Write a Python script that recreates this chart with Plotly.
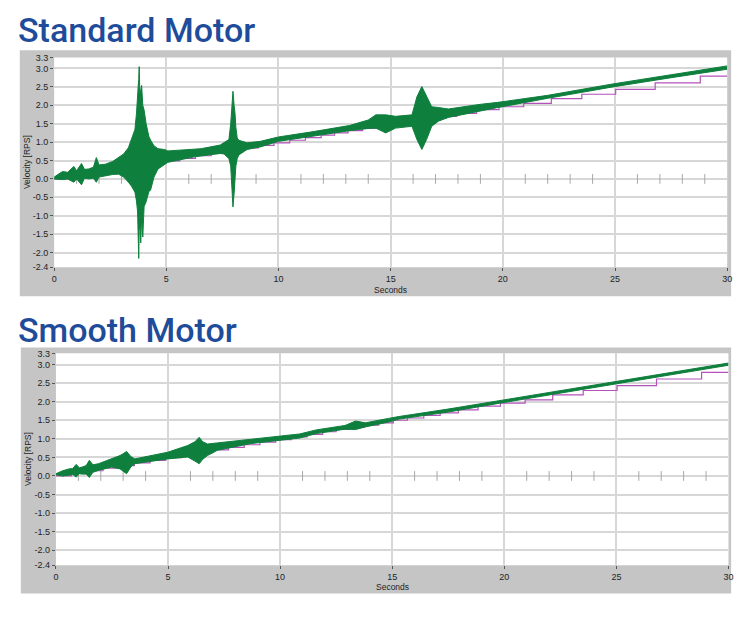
import plotly.graph_objects as go

W, H = 750, 628

# ---------------- data ----------------
# Standard Motor: measured velocity band (upper / lower envelope)
std_t  = [0.0, 0.2, 0.37, 0.6, 0.88, 1.0, 1.22, 1.35, 1.54, 1.75, 1.88, 2.0, 2.28, 2.6, 2.87,
          3.1, 3.31, 3.45, 3.6, 3.67, 3.72, 3.75, 3.77, 3.79, 3.82, 3.86, 3.9, 3.95, 4.01,
          4.1, 4.22, 4.3, 4.45, 4.63, 4.92, 5.07, 6.25, 6.54, 7.4, 7.57, 7.79, 7.87, 7.92,
          7.97, 8.02, 8.06, 8.1, 8.16, 8.23, 8.6, 9.19, 10.0, 11.5, 13.16, 14.0, 14.34, 14.78,
          15.22, 15.95, 16.17, 16.39, 16.6, 16.83, 17.13, 17.57, 19.04, 19.78, 22.0, 24.9,
          27.5, 30.0]
std_hi = [0.05, 0.12, 0.20, 0.18, 0.34, 0.22, 0.42, 0.26, 0.27, 0.32, 0.58, 0.38, 0.40, 0.47, 0.58,
          0.68, 0.85, 1.07, 1.34, 1.78, 2.50, 2.55, 2.70, 3.05, 2.30, 2.45, 2.54, 2.00, 1.87,
          1.50, 1.16, 1.05, 0.90, 0.82, 0.80, 0.76, 0.80, 0.82, 0.92, 0.98, 1.07, 1.50, 2.00,
          2.38, 2.00, 1.80, 1.40, 1.11, 1.05, 0.98, 1.02, 1.14, 1.28, 1.45, 1.60, 1.74, 1.74,
          1.70, 1.74, 2.23, 2.51, 2.23, 1.96, 1.94, 1.90, 2.03, 2.08, 2.27, 2.58,
          2.83, 3.07]
std_lo = [0.00, -0.01, -0.02, 0.00, -0.09, 0.00, -0.16, 0.02, 0.00, 0.02, -0.09, 0.05, 0.09, 0.12, 0.13,
          0.05, -0.09, -0.20, -0.36, -0.60, -0.90, -1.75, -2.16, -1.40, -1.20, -1.74, -1.00, -1.58, -0.75,
          -0.62, -0.35, -0.30, 0.05, 0.27, 0.40, 0.45, 0.60, 0.62, 0.69, 0.68, 0.55, 0.35, -0.30,
          -0.76, -0.40, 0.00, 0.35, 0.55, 0.65, 0.80, 0.87, 1.02, 1.16, 1.31, 1.37, 1.38, 1.25,
          1.38, 1.43, 1.07, 0.80, 1.07, 1.43, 1.57, 1.67, 1.85, 1.94, 2.19, 2.50,
          2.75, 2.98]

# Smooth Motor: measured velocity band (upper / lower envelope)
smooth_t  = [0.0, 0.3, 0.58, 0.75, 0.9, 1.05, 1.17, 1.35, 1.49, 1.65, 1.9, 2.49, 2.86, 3.0, 3.15,
             3.35, 3.52, 4.99, 5.88, 6.2, 6.39, 6.55, 6.76, 7.2, 8.67, 10.87, 11.61, 12.9, 13.37,
             13.8, 14.84, 15.3, 17.49, 20.0, 25.0, 30.0]
smooth_hi = [0.06, 0.14, 0.19, 0.20, 0.31, 0.22, 0.24, 0.28, 0.42, 0.30, 0.33, 0.46, 0.55, 0.60, 0.66,
             0.52, 0.46, 0.64, 0.82, 0.92, 1.04, 0.92, 0.86, 0.89, 0.98, 1.13, 1.24, 1.36, 1.48,
             1.43, 1.55, 1.60, 1.80, 2.05, 2.54, 3.04]
smooth_lo = [0.03, 0.00, 0.02, 0.04, -0.03, 0.06, 0.05, 0.05, -0.04, 0.10, 0.15, 0.24, 0.19, 0.12, 0.06,
             0.25, 0.33, 0.46, 0.51, 0.40, 0.33, 0.45, 0.55, 0.69, 0.87, 1.02, 1.14, 1.26, 1.25,
             1.32, 1.45, 1.53, 1.72, 1.98, 2.48, 2.98]

# Commanded velocity staircase (same for both motors)
cmd_t = [0.0, 0.7, 1.4, 2.1, 2.8, 3.5, 4.2, 4.9, 5.6, 6.3, 7.0, 7.7, 8.4, 9.1, 9.8, 10.5,
         11.2, 11.9, 12.5, 13.1, 13.75, 14.4, 15.05, 15.68, 16.41, 17.14, 17.95, 18.83,
         19.83, 20.93, 22.16, 23.52, 25.03, 26.79, 28.8, 30.0]
cmd_v = [0.0, 0.07, 0.14, 0.21, 0.28, 0.35, 0.42, 0.49, 0.56, 0.63, 0.70, 0.77, 0.84, 0.91, 0.98, 1.05,
         1.12, 1.19, 1.25, 1.31, 1.37, 1.43, 1.50, 1.56, 1.63, 1.70, 1.78, 1.88,
         1.96, 2.05, 2.18, 2.30, 2.43, 2.61, 2.79, 2.79]

# small tick marks drawn along the zero line
minor_ticks_t = [1, 2, 3, 4, 6, 7, 8, 9, 11, 12, 13, 14, 16, 17, 18, 19,
                 21, 22, 23, 24, 26, 27, 28, 29]

y_tickvals = [3.3, 3.0, 2.5, 2.0, 1.5, 1.0, 0.5, 0.0, -0.5, -1.0, -1.5, -2.0, -2.4]
y_ticktext = ["3.3", "3.0", "2.5", "2.0", "1.5", "1.0", "0.5", "0.0", "-0.5", "-1.0",
              "-1.5", "-2.0", "-2.4"]
x_tickvals = [0, 5, 10, 15, 20, 25, 30]
x_ticktext = ["0", "5", "10", "15", "20", "25", "30"]

titles = ["Standard Motor", "Smooth Motor"]

# ---------------- styling ----------------
GREEN = "#0f7f3d"
PURPLE = "#b352b9"
FRAME = "#c5c5c5"
GRID = "#d7d7d7"
BLUE = "#1f4c9a"
TXT = "#1e1e1e"
FONT = "Liberation Sans"


def px(x):
    return x / W


def py(y):
    return 1 - y / H


# panel geometry in pixels: frame box, plot box, title centre, label positions
panels = [
    dict(frame=(17, 46, 736, 296), plot=(51.7, 53.3, 732, 266.5), title_y=25,
         xlab_y=290, ylab_x=25),
    dict(frame=(18, 348, 736, 598), plot=(53.5, 354, 733.3, 569.2), title_y=330.5,
         xlab_y=591, ylab_x=26),
]

series = [(std_t, std_hi, std_lo), (smooth_t, smooth_hi, smooth_lo)]

fig = go.Figure()
shapes = []
annotations = []

for i, (p, (t, hi, lo)) in enumerate(zip(panels, series)):
    n = "" if i == 0 else str(i + 1)
    xa, ya = "x" + n, "y" + n
    fx0, fy0, fx1, fy1 = p["frame"]
    x0, y0, x1, y1 = p["plot"]
    shapes.append(dict(type="rect", xref="paper", yref="paper", layer="below",
                       x0=px(fx0), x1=px(fx1), y0=py(fy1), y1=py(fy0),
                       fillcolor=FRAME, line=dict(width=0)))
    shapes.append(dict(type="rect", xref="paper", yref="paper", layer="below",
                       x0=px(x0), x1=px(x1), y0=py(y1), y1=py(y0),
                       fillcolor="white", line=dict(width=0)))
    axis_common = dict(showgrid=True, gridcolor=GRID, gridwidth=1.5, zeroline=False,
                       showline=False, ticks="outside", ticklen=3, tickcolor="#555",
                       tickwidth=1, tickfont=dict(family=FONT, size=9, color=TXT),
                       fixedrange=True)
    fig.update_layout(**{
        ("xaxis" + n): dict(domain=[px(x0), px(x1)], range=[0, 30], anchor=ya,
                            tickmode="array", tickvals=x_tickvals, ticktext=x_ticktext,
                            **axis_common),
        ("yaxis" + n): dict(domain=[py(y1), py(y0)], range=[-2.4, 3.3], anchor=xa,
                            tickmode="array", tickvals=y_tickvals, ticktext=y_ticktext,
                            **axis_common),
    })
    # minor tick marks on the zero line
    fig.add_trace(go.Scatter(x=minor_ticks_t, y=[0] * len(minor_ticks_t), mode="markers",
                             marker=dict(symbol="line-ns", size=7,
                                         line=dict(color="#a8a8a8", width=1)),
                             xaxis=xa, yaxis=ya, hoverinfo="skip", showlegend=False))
    # commanded velocity staircase
    fig.add_trace(go.Scatter(x=cmd_t, y=cmd_v, mode="lines", line_shape="hv",
                             line=dict(color=PURPLE, width=1.2),
                             xaxis=xa, yaxis=ya, hoverinfo="skip", showlegend=False))
    # measured velocity band
    fig.add_trace(go.Scatter(x=t, y=lo, mode="lines", line=dict(color=GREEN, width=1),
                             xaxis=xa, yaxis=ya, hoverinfo="skip", showlegend=False))
    fig.add_trace(go.Scatter(x=t, y=hi, mode="lines", line=dict(color=GREEN, width=1),
                             fill="tonexty", fillcolor=GREEN,
                             xaxis=xa, yaxis=ya, hoverinfo="skip", showlegend=False))

    annotations.append(dict(text=titles[i], xref="paper", yref="paper",
                            x=px(13), y=py(p["title_y"]), xanchor="left", yanchor="middle",
                            showarrow=False,
                            font=dict(family="Roboto", size=34, weight=500, color=BLUE)))
    annotations.append(dict(text="Seconds", xref="paper", yref="paper",
                            x=px((x0 + x1) / 2), y=py(p["xlab_y"]), xanchor="center",
                            yanchor="middle", showarrow=False,
                            font=dict(family=FONT, size=8.5, color=TXT)))
    annotations.append(dict(text="Velocity [RPS]", xref="paper", yref="paper",
                            x=px(p["ylab_x"]), y=py((y0 + y1) / 2), xanchor="center",
                            yanchor="middle", textangle=-90, showarrow=False,
                            font=dict(family=FONT, size=8.5, color=TXT)))

fig.update_layout(autosize=True,
                  margin=dict(l=0, r=0, t=0, b=0),
                  paper_bgcolor="white", plot_bgcolor="white",
                  shapes=shapes, annotations=annotations, showlegend=False)

fig.write_html("out.html", config={"displayModeBar": False, "responsive": True},
               default_width="100vw", default_height="100vh",
               post_script="document.body.style.margin='0';"
                           "document.body.style.padding='0';"
                           "document.documentElement.style.overflow='hidden';"
                           "var gd=document.getElementById('{plot_id}');"
                           "gd.style.position='fixed';gd.style.top='0px';gd.style.left='0px';"
                           "gd.style.width='100vw';gd.style.height='100vh';"
                           "Plotly.Plots.resize(gd);")
